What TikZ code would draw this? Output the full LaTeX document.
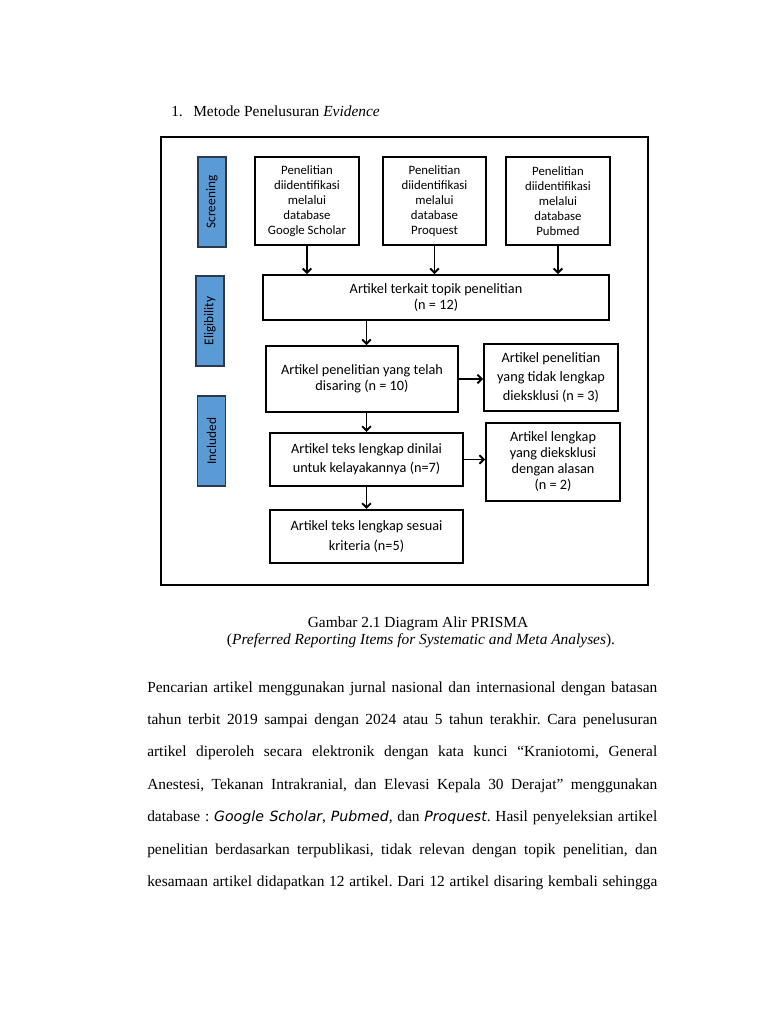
\documentclass[tikz,border=0pt]{standalone}
\usepackage{fontspec}
\setmainfont{Liberation Serif}
\newfontfamily\boxfont{Carlito}
\newfontfamily\oblfont{DejaVu Sans}
\usetikzlibrary{arrows,arrows.meta}
\frenchspacing
\definecolor{stageblue}{HTML}{5B9BD5}
\definecolor{stageline}{HTML}{2B3A4F}
\tikzset{bx/.append style={draw, line width=1.5pt, align=center, inner sep=0pt, font=\boxfont\fontsize{10.7}{12}\selectfont}}
\tikzset{dbbox/.append style={bx, minimum width=78pt, minimum height=66pt, font=\boxfont\fontsize{9.6}{11.25}\selectfont}}
\tikzset{stage/.append style={draw=stageline, fill=stageblue, line width=0.8pt, rotate=90, minimum width=67.5pt, minimum height=21pt, inner sep=0pt, font=\boxfont\fontsize{10}{12}\selectfont}}
\tikzset{arr/.append style={-{Straight Barb[length=3.2pt,width=6.5pt]}, line width=1.4pt}}
\tikzset{ln/.append style={anchor=base west, inner sep=0pt, font=\fontsize{11.55}{13}\selectfont}}
\newcommand{\dbname}[1]{{\oblfont\itshape\fontsize{10.6}{13}\selectfont #1}}

\begin{document}
\begin{tikzpicture}[x=0.75pt, y=-0.75pt]
                \useasboundingbox (0,0) rectangle (768,1024);
                \fill[white] (0,0) rectangle (768,1024);
                % judul
                \node[ln] (num) at (171,116) {1.};
                \node[ln] (judul) at (193,116) {Metode Penelusuran \textit{Evidence}};
                \draw[line width=2.2pt] (161,137) rectangle (648,585);
                % tahap
                \node[stage] (scr) at (212,202) {Screening};
                \node[stage] (eli) at (210,321) {Eligibility};
                \node[stage] (inc) at (211.5,441) {Included};
                % kotak
                \node[dbbox] (gs) at (307,201) {Penelitian\\diidentifikasi\\melalui\\database\\Google Scholar};
                \node[dbbox, minimum width=77pt] (pq) at (434.5,201) {Penelitian\\diidentifikasi\\melalui\\database\\Proquest};
                \node[dbbox, line width=1.2pt] (pm) at (558,201) {Penelitian\\diidentifikasi\\melalui\\database\\Pubmed};
                \node[bx, minimum width=259.5pt, minimum height=33.75pt] (terkait) at (436,297.5) {Artikel terkait topik penelitian\\(n = 12)};
                \node[bx, minimum width=144pt, minimum height=49.5pt] (saring) at (362,379) {Artikel penelitian yang telah\\disaring (n = 10)};
                \node[bx, minimum width=100.5pt, minimum height=50pt] (tidak) at (551,377.5) {Artikel penelitian\\[2.25pt]yang tidak lengkap\\[2.25pt]dieksklusi (n = 3)};
                \node[bx, minimum width=145pt, minimum height=40pt] (nilai) at (366.5,459.5) {Artikel teks lengkap dinilai\\[2.25pt]untuk kelayakannya (n=7)};
                \node[bx, minimum width=100.5pt, minimum height=58.5pt] (alasan) at (553,462) {Artikel lengkap\\yang dieksklusi\\dengan alasan\\(n = 2)};
                \node[bx, minimum width=145pt, minimum height=40pt] (sesuai) at (366.5,536.5) {Artikel teks lengkap sesuai\\[3pt]kriteria (n=5)};
                % panah
                \path (gs) edge[arr] (gs |- terkait.north);
                \path (pq) edge[arr] (pq |- terkait.north);
                \path (pm) edge[arr] (pm |- terkait.north);
                \path (nilai.north |- terkait.south) edge[arr] (nilai.north |- saring.north);
                \path (saring.east) edge[arr] (saring.east -| tidak.west);
                \path (nilai.north |- saring.south) edge[arr] (nilai.north);
                \path (nilai.east) edge[arr] (nilai.east -| alasan.west);
                \path (nilai) edge[arr] (sesuai);
                % keterangan
                \node[ln, anchor=base] (cap1) at (418,627) {Gambar 2.1 Diagram Alir PRISMA};
                \node[ln, anchor=base] (cap2) at (421,644) {(\textit{Preferred Reporting Items for Systematic and Meta Analyses}).};
                % paragraf
                \node[ln] (p1) at (147,692) {\makebox[382.5pt][s]{Pencarian artikel menggunakan jurnal nasional dan internasional dengan batasan}};
                \node[ln] (p2) at (147,724.4) {\makebox[382.5pt][s]{tahun terbit 2019 sampai dengan 2024 atau 5 tahun terakhir. Cara penelusuran}};
                \node[ln] (p3) at (147,756.8) {\makebox[382.5pt][s]{artikel diperoleh secara elektronik dengan kata kunci “Kraniotomi, General}};
                \node[ln] (p4) at (147,789.2) {\makebox[382.5pt][s]{Anestesi, Tekanan Intrakranial, dan Elevasi Kepala 30 Derajat” menggunakan}};
                \node[ln] (p5) at (147,821.6) {\makebox[382.5pt][s]{database : \dbname{Google Scholar}, \dbname{Pubmed}, dan \dbname{Proquest}. Hasil penyeleksian artikel}};
                \node[ln] (p6) at (147,854) {\makebox[382.5pt][s]{penelitian berdasarkan terpublikasi, tidak relevan dengan topik penelitian, dan}};
                \node[ln] (p7) at (147,886.4) {\makebox[382.5pt][s]{kesamaan artikel didapatkan 12 artikel. Dari 12 artikel disaring kembali sehingga}};
            \end{tikzpicture}
\end{document}
